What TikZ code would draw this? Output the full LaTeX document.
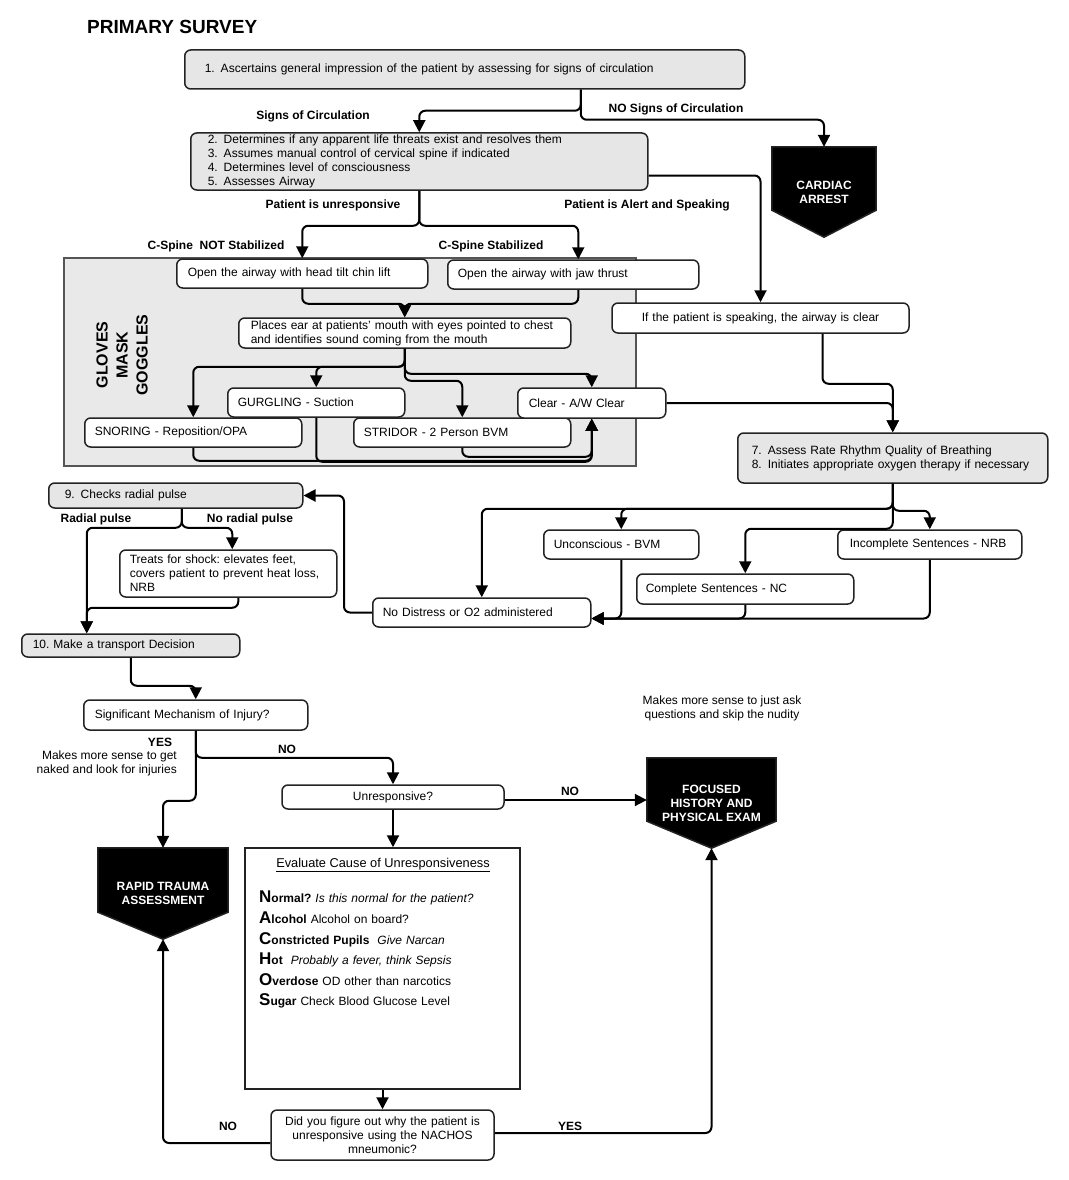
\documentclass[tikz,border=0pt]{standalone}
\usepackage{fontspec}
\setmainfont{Liberation Sans}
\usepackage{tikz}
\usetikzlibrary{arrows.meta, positioning, calc}
\pgfdeclarelayer{bg}
\pgfsetlayers{bg,main}
\frenchspacing
\definecolor{mydark}{RGB}{35,35,35}
\definecolor{mygray}{RGB}{230,230,230}
\definecolor{ppegray}{RGB}{233,233,233}
\definecolor{ppeline}{RGB}{85,85,85}
\newcommand{\itemno}[1]{\makebox[16pt][l]{#1.}}
\newcommand{\bigletter}[1]{{\fontsize{17}{20}\selectfont\bfseries #1}}
\tikzset{
  stepbox/.style={rectangle, draw=mydark, fill=white, rounded corners=6pt,
    line width=1.5pt, anchor=west, align=left, inner xsep=10pt, inner ysep=0pt,
    font=\fontsize{12}{14}\selectfont},
  graybox/.style={stepbox, fill=mygray},
  askbox/.style={stepbox, anchor=center, align=center},
  evalbox/.style={rectangle, draw=mydark, fill=white, line width=1.5pt, inner sep=0pt},
  ppebox/.style={rectangle, draw=ppeline, fill=ppegray, line width=1.5pt, inner sep=0pt},
  endnode/.style={rectangle, inner sep=0pt, text=white, align=center,
    font=\fontsize{12}{14}\selectfont\bfseries},
  endfill/.style={fill=black, draw=mydark, line width=1.5pt},
  headline/.style={font=\fontsize{19}{22}\selectfont\bfseries, anchor=west, inner sep=0pt},
  lbl/.style={font=\fontsize{12}{14}\selectfont\bfseries, inner sep=0pt},
  note/.style={font=\fontsize{12}{14}\selectfont, inner sep=0pt},
  arrow/.style={-{Triangle[length=12pt,width=12pt]}, line width=2pt, color=black, rounded corners=6pt},
  line/.style={line width=2pt, color=black, rounded corners=6pt}
}

\begin{document}
\begin{tikzpicture}[x=1pt, y=-1pt]
  \path[use as bounding box] (0,0) rectangle (1068,1180);

  % Title
  \node[headline] (title) at (87,27) {PRIMARY SURVEY};

  % Steps 1-5
  \node[graybox, inner xsep=20pt, text width=520pt, minimum height=39pt] (intro) at (184,69.5)
    {\itemno{1}Ascertains general impression of the patient by assessing for signs of circulation};
  \node[graybox, inner xsep=17pt, text width=423pt, minimum height=57pt] (threats) at (190,161.5)
    {\itemno{2}Determines if any apparent life threats exist and resolves them\\
     \itemno{3}Assumes manual control of cervical spine if indicated\\
     \itemno{4}Determines level of consciousness\\
     \itemno{5}Assesses Airway};

  % Cardiac arrest
  \node[endnode, minimum width=104pt, minimum height=90pt] (arrest) at (824,192) {CARDIAC\\ARREST};

  % PPE area
  \node[ppebox, minimum width=572pt, minimum height=208pt] (ppe) at (350,362) {};
  \node[rotate=90, font=\fontsize{16}{20}\selectfont\bfseries, align=center, inner sep=0pt] (ppetext) at (122,355) {GLOVES\\MASK\\GOGGLES};

  % Airway
  \node[stepbox, inner xsep=11pt, text width=229pt, minimum height=29pt] (headtilt) at (176,273.5) {Open the airway with head tilt chin lift};
  \node[stepbox, text width=231pt, minimum height=29pt] (jawthrust) at (447,274.5) {Open the airway with jaw thrust};
  \node[stepbox, inner xsep=12pt, text width=308pt, minimum height=30pt] (listen) at (238,333)
    {Places ear at patients' mouth with eyes pointed to chest\\and identifies sound coming from the mouth};

  % Sounds
  \node[stepbox, text width=157pt, minimum height=29pt] (gurgling) at (227,402.5) {GURGLING - Suction};
  \node[stepbox, text width=197pt, minimum height=29pt] (snoring) at (84,432.5) {SNORING - Reposition/OPA};
  \node[stepbox, text width=197pt, minimum height=29pt] (stridor) at (353,432.5) {STRIDOR - 2 Person BVM};
  \node[stepbox, inner xsep=11pt, text width=126pt, minimum height=30pt] (clear) at (517,403) {Clear - A/W Clear};

  % Alert patient
  \node[askbox, text width=277pt, minimum height=30pt] (speaking) at (760.5,318) {If the patient is speaking, the airway is clear};

  % Steps 7-8
  \node[graybox, inner xsep=14pt, text width=282pt, minimum height=50pt] (breathing) at (737,458)
    {\itemno{7}Assess Rate Rhythm Quality of Breathing\\
     \itemno{8}Initiates appropriate oxygen therapy if necessary};

  % Oxygen
  \node[stepbox, text width=135pt, minimum height=29pt] (unconscious) at (543,544.5) {Unconscious - BVM};
  \node[stepbox, inner xsep=12pt, text width=160pt, minimum height=29pt] (incomplete) at (837,544.5) {Incomplete Sentences - NRB};
  \node[stepbox, inner xsep=9pt, text width=199pt, minimum height=30pt] (complete) at (636,589) {Complete Sentences - NC};
  \node[stepbox, text width=198pt, minimum height=29pt] (nodistress) at (372,612.5) {No Distress or O2 administered};

  % Step 9
  \node[graybox, inner xsep=16pt, text width=222pt, minimum height=25pt] (checks) at (48,495.5) {\itemno{9}Checks radial pulse};
  \node[stepbox, text width=197pt, minimum height=47pt] (shock) at (119,573.5)
    {Treats for shock: elevates feet,\\covers patient to prevent heat loss,\\NRB};

  % Step 10
  \node[graybox, inner xsep=11pt, text width=196pt, minimum height=23pt] (transport) at (21,645.5) {10. Make a transport Decision};
  \node[stepbox, inner xsep=11pt, text width=202pt, minimum height=30pt] (mechanism) at (83,715) {Significant Mechanism of Injury?};
  \node[askbox, text width=202pt, minimum height=24pt] (unresp) at (393,797) {Unresponsive?};
  \coordinate (unrespout) at ([yshift=-3pt]unresp.east);

  % End points
  \node[endnode, minimum width=130pt, minimum height=91pt] (rapid) at (163,893.5) {RAPID TRAUMA\\ASSESSMENT};
  \node[endnode, minimum width=129pt, minimum height=90pt] (focused) at (711.5,803) {FOCUSED\\HISTORY AND\\PHYSICAL EXAM};

  % NACHOS
  \node[evalbox, minimum width=275pt, minimum height=241pt] (evaluate) at (382.5,968.5) {};
  \node[note, font=\fontsize{12.8}{15}\selectfont] (evaltitle) at (383,865) {\underline{Evaluate Cause of Unresponsiveness}};
  \node[note, anchor=north west, align=left, text width=250pt, font=\fontsize{12}{20.6}\selectfont] (nachos) at (259,891)
    {\bigletter{N}\textbf{ormal?} \textit{Is this normal for the patient?}\\
     \bigletter{A}\textbf{lcohol} Alcohol on board?\\
     \bigletter{C}\textbf{onstricted Pupils}\ \ \textit{Give Narcan}\\
     \bigletter{H}\textbf{ot}\ \ \textit{Probably a fever, think Sepsis}\\
     \bigletter{O}\textbf{verdose} OD other than narcotics\\
     \bigletter{S}\textbf{ugar} Check Blood Glucose Level};
  \node[askbox, text width=203pt, minimum height=50pt] (decide) at (382.5,1135)
    {Did you figure out why the patient is\\unresponsive using the NACHOS\\mneumonic?};

  % Pointed end shapes
  \begin{pgfonlayer}{bg}
    \filldraw[endfill] (arrest.north west) -- (arrest.north east) -- ([yshift=27pt]arrest.south east) -- (arrest.south) -- ([yshift=27pt]arrest.south west) -- cycle;
    \filldraw[endfill] (rapid.north west) -- (rapid.north east) -- ([yshift=27pt]rapid.south east) -- (rapid.south) -- ([yshift=27pt]rapid.south west) -- cycle;
    \filldraw[endfill] (focused.north west) -- (focused.north east) -- ([yshift=27pt]focused.south east) -- (focused.south) -- ([yshift=27pt]focused.south west) -- cycle;
  \end{pgfonlayer}

  % Connectors from step 1
  \draw[arrow] ([xshift=116pt]intro.south) -- ++(0,21) -| (threats.north);
  \draw[arrow] ([xshift=116pt]intro.south) -- ++(0,30) -| (arrest.north);

  % Connectors from steps 2-5
  \draw[arrow] ([yshift=-14pt]threats.east) -| (speaking.north);
  \draw[arrow] (threats.south) -- ++(0,35) -| (headtilt.north);
  \draw[arrow] (threats.south) -- ++(0,35) -| ([xshift=5pt]jawthrust.north);
  \draw[arrow] (headtilt.south) -- ++(0,15) -| (listen.north);
  \draw[arrow] ([xshift=5pt]jawthrust.south) -- ++(0,14) -| (listen.north);

  % Sounds
  \draw[arrow] (listen.south) -- ++(0,18) -| (snoring.north);
  \draw[arrow] (listen.south) -- ++(0,18) -| (gurgling.north);
  \draw[arrow] (listen.south) -- ++(0,32) -| (stridor.north);
  \draw[arrow] (listen.south) -- ++(0,25) -| (clear.north);
  \draw[arrow] (snoring.south) -- ++(0,13) -| (clear.south);
  \draw[arrow] (gurgling.south) -- ++(0,44) -| (clear.south);
  \draw[arrow] (stridor.south) -- ++(0,9) -| (clear.south);

  % To breathing
  \draw[arrow] ([xshift=62pt]speaking.south) -- ++(0,50) -| (breathing.north);
  \draw[arrow] (clear.east) -| (breathing.north);

  % Breathing outcomes
  \draw[arrow] (breathing.south) -- ++(0,25) -| (nodistress.north);
  \draw[arrow] (breathing.south) -- ++(0,25) -| (unconscious.north);
  \draw[arrow] (breathing.south) -- ++(0,27) -| (incomplete.north);
  \draw[arrow] (breathing.south) -- ++(0,45) -| (complete.north);
  \draw[arrow] (unconscious.south) |- ([yshift=-6pt]nodistress.east);
  \draw[arrow] (complete.south) |- ([yshift=-6pt]nodistress.east);
  \draw[arrow] (incomplete.south) |- ([yshift=-6pt]nodistress.east);
  \draw[arrow] (nodistress.west) -- ++(-28,0) |- (checks.east);

  % Pulse
  \draw[arrow] ([xshift=6pt]checks.south) -- ++(0,19) -| ([xshift=-44pt]transport.north);
  \draw[arrow] ([xshift=6pt]checks.south) -- ++(0,19) -| ([xshift=4pt]shock.north);
  \draw[arrow] ([xshift=10pt]shock.south) -- ++(0,10) -| ([xshift=-44pt]transport.north);

  % Transport decision
  \draw[arrow] (transport.south) -- ++(0,28) -| (mechanism.north);
  \draw[arrow] (mechanism.south) -- ++(0,27) -| (unresp.north);
  \draw[arrow] (mechanism.south) -- ++(0,70) -| (rapid.north);
  \draw[arrow] (unrespout) -- (unrespout -| focused.west);
  \draw[arrow] (unresp.south) -- (unresp.south |- evaluate.north);
  \draw[arrow] (evaluate.south) -- (decide.north);
  \draw[arrow] ([yshift=-8pt]decide.west) -| (rapid.south);
  \draw[arrow] ([yshift=2pt]decide.east) -| (focused.south);

  % Labels
  \node[lbl] (lsigns) at (313,116) {Signs of Circulation};
  \node[lbl] (lnosigns) at (676,109) {NO Signs of Circulation};
  \node[lbl] (lunresp) at (333,205) {Patient is unresponsive};
  \node[lbl] (lalert) at (647,205) {Patient is Alert and Speaking};
  \node[lbl] (lnotstab) at (216,246) {C-Spine\ \ NOT Stabilized};
  \node[lbl] (lstab) at (491,246) {C-Spine Stabilized};
  \node[lbl] (lradial) at (96,519) {Radial pulse};
  \node[lbl] (lnoradial) at (250,519) {No radial pulse};
  \node[lbl] (lyesmoi) at (160,742) {YES};
  \node[note, align=right, anchor=east] (yesnote) at (177,763) {Makes more sense to get\\naked and look for injuries};
  \node[lbl] (lnomoi) at (287,749) {NO};
  \node[lbl] (lnoresp) at (570,791) {NO};
  \node[note, align=center] (nonote) at (722,708) {Makes more sense to just ask\\questions and skip the nudity};
  \node[lbl] (lnonachos) at (228,1126) {NO};
  \node[lbl] (lyesnachos) at (570,1126) {YES};
\end{tikzpicture}
\end{document}
